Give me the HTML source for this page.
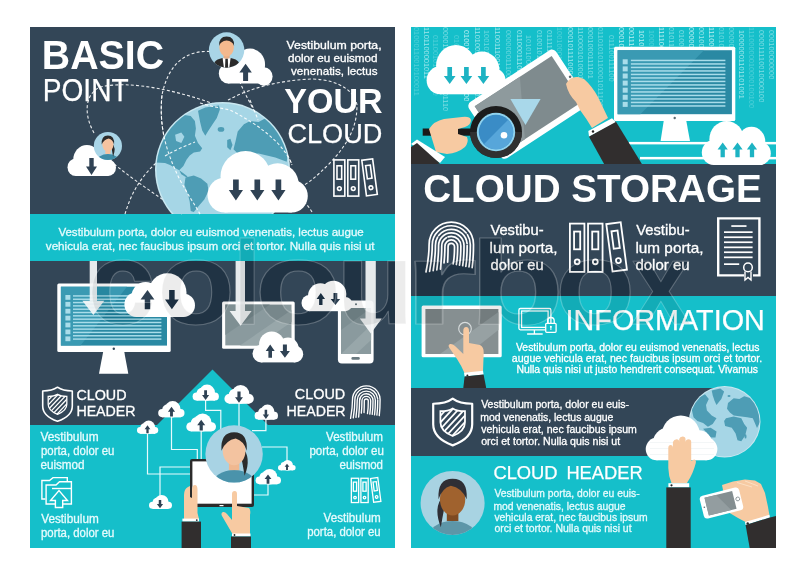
<!DOCTYPE html>
<html><head><meta charset="utf-8">
<style>
html,body{margin:0;padding:0;background:#fff;width:800px;height:575px;overflow:hidden}
svg{display:block}
text{font-family:"Liberation Sans",sans-serif}
</style></head><body>
<svg width="800" height="575" viewBox="0 0 800 575">
<defs>
<symbol id="cloud" viewBox="0 0 100 60" preserveAspectRatio="none">
<circle cx="16" cy="45" r="15"/><circle cx="84" cy="44" r="16"/><circle cx="42" cy="30" r="27"/><circle cx="70" cy="34" r="19"/><rect x="16" y="30" width="68" height="30"/>
</symbol>
<symbol id="au" viewBox="0 0 10 14" preserveAspectRatio="none"><path d="M5 0L10 6.5H7V14H3V6.5H0Z"/></symbol>
<symbol id="ad" viewBox="0 0 10 14" preserveAspectRatio="none"><path d="M5 14L10 7.5H7V0H3V7.5H0Z"/></symbol>
</defs>
<rect x="30" y="27" width="365" height="521" fill="#334657"/>
<rect x="30" y="214" width="365" height="47" fill="#15BFCA"/>
<path d="M30 425H157L212.5 369.5L268 425H395V548H30Z" fill="#15BFCA"/>
<rect x="411" y="27" width="365" height="137" fill="#15BFCA"/>
<rect x="411" y="164" width="365" height="132" fill="#334657"/>
<rect x="411" y="296" width="365" height="252" fill="#15BFCA"/>
<rect x="411" y="388" width="310" height="68" fill="#334657"/>
<g fill="none" stroke="#fff" stroke-width="1.1" stroke-dasharray="3 2.2" opacity="0.9"><path d="M94 133C84 115 84 95 100 87C130 80 180 90 230 110C260 125 285 145 292 165"/><path d="M210 51.5C185 50 168 65 162 95C159 125 165 150 180 180C188 195 195 205 200 214"/><path d="M114 164C135 181 155 194 172 206L182 214"/><path d="M125 214C132 190 145 170 165 156C175 150 185 146 195 142"/><path d="M239.5 81C245 95 252 105 258 120"/><path d="M228 100C250 88 280 80 313 79C340 80 355 92 357 105C357 125 350 142 329 164C318 175 312 180 303 186"/><path d="M300 198C306 203 310 208 313 214"/></g>
<clipPath id="gclip"><rect x="30" y="27" width="365" height="187"/></clipPath>
<g clip-path="url(#gclip)"><circle cx="222.5" cy="169.5" r="67.5" fill="#C9E8F1"/><circle cx="222.5" cy="169.5" r="66" fill="#A6D6E6"/><clipPath id="g1c"><circle cx="222.5" cy="169.5" r="66"/></clipPath><g fill="#4E9DB5" clip-path="url(#g1c)"><path d="M198 110.7L205.3 107.5L218.9 105.4L219.9 109.6L216.8 118L212.6 124.2L208.5 130.5L205.3 135.7L202.2 130.5L200.1 122.1Z"/><path d="M150 125L160 122L170.9 118L181.3 114.5L190.7 115.9L194.9 121.1L195.9 128.4L194.9 135.7L198 143L202.2 148.2L200.1 151.4L193.8 152.4L189.7 155.5L186.5 159.7L183.4 166L179.2 170.2L175.1 168.1L170 165L165 163L150 162Z"/><path d="M179.2 170.2L183.4 173.3L187.6 176.4L186.5 177.5L181.3 174.3Z"/><path d="M185.5 177.5L193.8 175.4L201.1 178.5L207.4 183.7L208.5 191L204.3 199.4L199.1 205.6L193.8 211.9L190.7 210.9L189.7 201.5L187.6 193.1L184.4 184.8Z"/><ellipse cx="221" cy="129.4" rx="3.3" ry="2.3"/><path d="M227.2 139.9L230.4 138.8L232.5 145.1L230.4 150.3L227.2 147.2Z"/><path d="M237.7 131.5L243.9 124.2L250.2 121.1L258.6 122.1L265.9 118L275.3 120.1L283.6 126.3L287.8 136.8L288.8 149.3L286.7 161.8L275.3 157.6L266.9 155.5L258.6 153.5L250.2 153.5L243.9 155.5L237.7 153.5L233.5 149.3L235.6 140.9Z"/></g><g fill="#A6D6E6"><path d="M175.1 134.7L181.3 132.6L184.4 136.8L181.3 143L176.1 140.9Z"/></g></g>
<g fill="none" stroke="#fff" stroke-width="1.1" stroke-dasharray="3 2.2" opacity="0.9"><path d="M162 95C159 125 165 150 180 180C188 195 195 205 200 214"/><path d="M200 103C210 106 220 108 230 110C260 125 285 145 292 165"/><path d="M165 156C175 150 185 146 195 142"/><path d="M250 100C253 108 256 114 258 120"/></g>
<g fill="#fff" ><ellipse cx="224.55" cy="195.07" rx="17.05" ry="17.42"/><ellipse cx="245.61" cy="176.62" rx="25.08" ry="25.62"/><ellipse cx="277.71" cy="184.82" rx="21.06" ry="21.52"/><ellipse cx="291.75" cy="196.10" rx="16.05" ry="16.40"/><rect x="224.55" y="181.75" width="67.20" height="30.75"/></g>
<path d="M235.9 200.4L243.0 189.95H238.74V179.5H233.06V189.95H228.8Z" fill="#2F4254"/>
<path d="M257.3 200.4L264.40000000000003 189.95H260.14V179.5H254.46V189.95H250.20000000000002Z" fill="#2F4254"/>
<path d="M278.4 200.4L285.5 189.95H281.23999999999995V179.5H275.56V189.95H271.29999999999995Z" fill="#2F4254"/>
<g fill="#fff" ><ellipse cx="227.95" cy="73.61" rx="9.15" ry="9.89"/><ellipse cx="234.94" cy="67.21" rx="10.76" ry="11.63"/><ellipse cx="250.00" cy="64.89" rx="15.06" ry="16.29"/><ellipse cx="263.99" cy="76.52" rx="8.61" ry="9.31"/><rect x="227.95" y="66.05" width="36.05" height="17.45"/></g>
<path d="M245.6 63.8L251.85 72.4H248.1V81H243.1V72.4H239.35Z" fill="#2F4254"/>
<clipPath id="mc226"><circle cx="226.6" cy="50" r="17.7"/></clipPath><circle cx="226.6" cy="50" r="17.7" fill="#A9D5E7"/><g clip-path="url(#mc226)"><path d="M213.6 69.0L214.6 62.0Q216.6 59.0 222.6 58.0H230.6Q236.6 59.0 238.6 62.0L239.6 69.0Z" fill="#2B2B2B"/><path d="M222.6 58.0H230.6L229.1 69.0H224.1Z" fill="#fff"/><path d="M225.4 58.5H227.79999999999998L228.2 69.0H225.0Z" fill="#2B2B2B"/><rect x="223.6" y="52.0" width="6.0" height="6.5" fill="#E9AE86"/><ellipse cx="226.6" cy="47.0" rx="7.3" ry="9.5" fill="#F4B98E"/><path d="M219.1 46.0Q218.6 36.5 226.6 36.5Q234.6 36.5 234.1 46.0Q232.6 41.0 226.6 40.5Q220.6 41.0 219.1 46.0Z" fill="#2B2B2B"/></g>
<g fill="#fff" ><ellipse cx="75.75" cy="167.22" rx="8.24" ry="8.78"/><ellipse cx="86.90" cy="159.47" rx="13.58" ry="14.47"/><ellipse cx="101.45" cy="162.05" rx="10.19" ry="10.85"/><ellipse cx="108.24" cy="167.73" rx="7.76" ry="8.27"/><rect x="75.75" y="160.50" width="32.49" height="15.50"/></g>
<path d="M91.5 175L97.0 166.5H93.7V158H89.3V166.5H86.0Z" fill="#2F4254"/>
<clipPath id="w1"><circle cx="107.9" cy="146" r="14.1"/></clipPath><circle cx="107.9" cy="146" r="14.1" fill="#A9D5E7"/><g clip-path="url(#w1)"><ellipse cx="107.9" cy="161.9322033898305" rx="11.152542372881356" ry="7.966101694915254" fill="#3D8DA8"/><rect x="105.35084745762713" y="148.38983050847457" width="5.098305084745763" height="5.576271186440678" fill="#F5C3A0"/><g transform="translate(107.9 0) scale(1 1) translate(-107.9 0)"><path d="M111.88305084745764 142.8135593220339Q116.66271186440679 147.59322033898306 113.07796610169493 156.75423728813558Q112.2813559322034 151.5762711864407 111.08644067796611 146Z" fill="#2B2B2B"/><ellipse cx="107.9" cy="144.40677966101694" rx="5.576271186440678" ry="7.169491525423728" fill="#F5C3A0"/><path d="M101.6864406779661 144.40677966101694Q101.12881355932204 135.4050847457627 107.9 135.4050847457627Q114.67118644067797 135.4050847457627 114.11355932203391 144.40677966101694Q112.67966101694915 139.6271186440678 108.69661016949154 138.4322033898305Q103.91694915254237 139.22881355932202 101.6864406779661 144.40677966101694Z" fill="#2B2B2B"/></g></g>
<g fill="none" stroke="#fff" stroke-width="1.6"><rect x="333.90" y="159.90" width="10.91" height="36.20"/><rect x="336.98" y="165.79" width="4.70" height="13.38"/><circle cx="339.36" cy="188.58" r="1.88"/><rect x="347.81" y="159.90" width="10.91" height="36.20"/><rect x="350.88" y="165.79" width="4.70" height="13.38"/><circle cx="353.26" cy="188.58" r="1.88"/><g transform="rotate(-7.5 360.91 159.59)"><rect x="361.71" y="160.39" width="10.91" height="35.82"/><rect x="364.79" y="166.22" width="4.70" height="13.25"/><circle cx="367.17" cy="188.78" r="1.88"/></g></g>
<rect x="57.3" y="283.4" width="113.4" height="68.5" rx="1.5" fill="#fff"/>
<rect x="60.9" y="286.7" width="106.1" height="58.9" fill="#2A89A3"/>
<path d="M60.9 286.7H127L80.5 345.6H60.9Z" fill="#3A9AB3"/>
<rect x="65.4" y="295.0" width="5" height="4.8" fill="#A9DDEA"/>
<rect x="65.4" y="301.9" width="5" height="4.8" fill="#A9DDEA"/>
<rect x="65.4" y="308.8" width="5" height="4.8" fill="#A9DDEA"/>
<rect x="65.4" y="315.7" width="5" height="4.8" fill="#A9DDEA"/>
<rect x="65.4" y="322.6" width="5" height="4.8" fill="#A9DDEA"/>
<rect x="65.4" y="329.5" width="5" height="4.8" fill="#A9DDEA"/>
<rect x="65.4" y="336.4" width="5" height="4.8" fill="#A9DDEA"/>
<rect x="73" y="295.20" width="88.4" height="1.45" fill="#A9DDEA"/>
<rect x="73" y="298.52" width="88.4" height="1.45" fill="#A9DDEA"/>
<rect x="73" y="301.84" width="88.4" height="1.45" fill="#A9DDEA"/>
<rect x="73" y="305.16" width="88.4" height="1.45" fill="#A9DDEA"/>
<rect x="73" y="308.48" width="88.4" height="1.45" fill="#A9DDEA"/>
<rect x="73" y="311.80" width="88.4" height="1.45" fill="#A9DDEA"/>
<rect x="73" y="315.12" width="88.4" height="1.45" fill="#A9DDEA"/>
<rect x="73" y="318.44" width="88.4" height="1.45" fill="#A9DDEA"/>
<rect x="73" y="321.76" width="88.4" height="1.45" fill="#A9DDEA"/>
<rect x="73" y="325.08" width="88.4" height="1.45" fill="#A9DDEA"/>
<rect x="73" y="328.40" width="88.4" height="1.45" fill="#A9DDEA"/>
<rect x="73" y="331.72" width="88.4" height="1.45" fill="#A9DDEA"/>
<rect x="73" y="335.04" width="88.4" height="1.45" fill="#A9DDEA"/>
<rect x="73" y="338.36" width="88.4" height="1.45" fill="#A9DDEA"/>
<circle cx="113.8" cy="348.8" r="1.2" fill="#334657"/>
<path d="M103.2 351.5H124.2L128.3 373.8H99Z" fill="#fff"/>
<rect x="222.1" y="301.4" width="72.6" height="47.3" rx="1.5" fill="#fff"/>
<rect x="225.3" y="304.6" width="66.2" height="40.8" fill="#8A9A9E"/>
<path d="M225.3 304.6H270L225.3 335Z" fill="#7E8F93"/>
<path d="M240 345.4L291.5 310V322L258 345.4Z" fill="#98A7AA"/>
<rect x="337.9" y="300.5" width="35.7" height="63" rx="4" fill="#fff"/>
<rect x="341" y="308" width="30.1" height="46" fill="#8A9A9E"/>
<path d="M341 308H371.1L341 330Z" fill="#7E8F93"/>
<path d="M341 354L371.1 325V340L356 354Z" fill="#98A7AA"/>
<circle cx="356" cy="304.3" r="1" fill="#6A7A80"/>
<rect x="351.4" y="357" width="8.4" height="2.7" rx="1.3" fill="#6A7A80"/>
<path d="M89.7 261H97V300.7H104.3L93.35 315L82.4 300.7H89.7Z" fill="#F4F6F7" opacity="0.93"/>
<path d="M235.6 261H245V311H251.6L240.6 325.8L229.6 311H235.6Z" fill="#F4F6F7" opacity="0.93"/>
<path d="M365.5 261H375.8V318.4H381.8L370.8 333.4L359.8 318.4H365.5Z" fill="#F4F6F7" opacity="0.93"/>
<g fill="#fff" ><ellipse cx="136.40" cy="304.62" rx="12.00" ry="12.38"/><ellipse cx="145.58" cy="296.61" rx="14.12" ry="14.57"/><ellipse cx="167.47" cy="292.97" rx="19.06" ry="19.66"/><ellipse cx="183.70" cy="305.35" rx="11.30" ry="11.65"/><rect x="136.40" y="295.15" width="47.30" height="21.85"/></g>
<path d="M147.5 290L154.4 299.6H150.26V309.2H144.74V299.6H140.6Z" fill="#2F4254"/>
<path d="M171.9 309.2L178.8 299.6H174.66V290H169.14000000000001V299.6H165.0Z" fill="#2F4254"/>
<g fill="#fff" ><ellipse cx="261.12" cy="353.62" rx="8.62" ry="8.78"/><ellipse cx="271.77" cy="344.32" rx="12.67" ry="12.92"/><ellipse cx="287.99" cy="348.45" rx="10.65" ry="10.85"/><ellipse cx="295.09" cy="354.13" rx="8.11" ry="8.27"/><rect x="261.12" y="346.90" width="33.97" height="15.50"/></g>
<path d="M270.2 344.5L274.7 351.1H272.0V357.7H268.4V351.1H265.7Z" fill="#2F4254"/>
<path d="M284.9 357.7L289.9 351.1H286.9V344.5H282.9V351.1H279.9Z" fill="#2F4254"/>
<g fill="#fff" ><ellipse cx="309.47" cy="303.09" rx="7.97" ry="8.11"/><ellipse cx="320.43" cy="296.00" rx="12.45" ry="12.67"/><ellipse cx="333.38" cy="293.97" rx="12.95" ry="13.17"/><ellipse cx="345.33" cy="304.11" rx="6.97" ry="7.09"/><rect x="309.47" y="296.00" width="35.86" height="15.20"/></g>
<path d="M320.8 293L325.05 298.95H322.5V304.9H319.1V298.95H316.55Z" fill="#2F4254"/>
<path d="M335.4 304.9L340.15 298.95H337.29999999999995V293H333.5V298.95H330.65Z" fill="#2F4254"/>
<path d="M57.5 387.2Q52.32 390.94 42.7 390.94V405.9Q42.7 416.09999999999997 57.5 421.2Q72.3 416.09999999999997 72.3 405.9V390.94Q62.68 390.94 57.5 387.2Z" fill="none" stroke="#fff" stroke-width="1.6" stroke-linejoin="round"/><clipPath id="sh1"><path d="M57.5 394.34Q54.2366 396.346 48.176 396.346V404.37Q48.176 410.7892 57.5 414.4Q66.824 410.7892 66.824 404.37V396.346Q60.7634 396.346 57.5 394.34Z"/></clipPath><path d="M57.5 394.34Q54.2366 396.346 48.176 396.346V404.37Q48.176 410.7892 57.5 414.4Q66.824 410.7892 66.824 404.37V396.346Q60.7634 396.346 57.5 394.34Z" fill="none" stroke="#fff" stroke-width="1.2800000000000002"/><g clip-path="url(#sh1)" stroke="#fff" stroke-width="1.2800000000000002"><line x1="29.9364" y1="419.4" x2="58.584399999999995" y2="389.34"/><line x1="34.3496" y1="419.4" x2="62.9976" y2="389.34"/><line x1="38.7628" y1="419.4" x2="67.4108" y2="389.34"/><line x1="43.176" y1="419.4" x2="71.824" y2="389.34"/><line x1="47.589200000000005" y1="419.4" x2="76.2372" y2="389.34"/><line x1="52.0024" y1="419.4" x2="80.6504" y2="389.34"/><line x1="56.415600000000005" y1="419.4" x2="85.0636" y2="389.34"/></g>
<g fill="none" stroke="#fff" stroke-width="1.35" stroke-linecap="round"><path d="M364.02 412.65Q364.30 406.25 364.30 401.02A2.00 2.00 0 0 1 368.30 401.02Q368.30 408.60 367.47 413.66"/><path d="M361.33 413.09Q361.94 406.30 361.94 400.73A4.36 4.36 0 0 1 370.66 400.73Q370.66 408.71 369.83 414.03"/><path stroke-dasharray="23.3 1.2 999" d="M358.64 416.98Q359.58 407.89 359.58 400.45A6.72 6.72 0 0 1 373.02 400.45Q373.02 408.83 372.19 414.41"/><path d="M355.95 417.42Q357.22 407.93 357.22 400.17A9.08 9.08 0 0 1 375.38 400.17Q375.38 408.94 374.55 414.79"/><path stroke-dasharray="24.3 1.2 27.0 1.2 999" d="M353.26 417.86Q354.86 407.97 354.86 399.88A11.44 11.44 0 0 1 377.74 399.88Q377.74 409.05 376.91 415.16"/><path stroke-dasharray="52.7 1.2 999" d="M350.57 418.30Q352.50 408.02 352.50 399.60A13.80 13.80 0 0 1 380.10 399.60Q380.10 409.16 379.27 415.54"/></g>
<g fill="none" stroke="#fff" stroke-width="1.4" stroke-linejoin="miter"><path d="M45.4 499H41.9V480.5H49.5L53 477.6H67.3V481.5"/><path d="M55.4 504H46.1V485H56L59.5 481.7H71.4V504H62.7"/><path d="M52 488.5H71.4"/><path d="M55.4 507.5V500.5H50.5L59 490.5L67.5 500.5H62.7V507.5Z"/></g>
<g fill="none" stroke="#fff" stroke-width="1.3"><rect x="351.35" y="478.25" width="7.29" height="24.30"/><rect x="353.36" y="482.13" width="3.23" height="9.06"/><circle cx="355.00" cy="497.57" r="1.29"/><rect x="360.90" y="478.25" width="7.29" height="24.30"/><rect x="362.91" y="482.13" width="3.23" height="9.06"/><circle cx="364.54" cy="497.57" r="1.29"/><g transform="rotate(-7.5 369.80 477.93)"><rect x="370.45" y="478.58" width="7.29" height="24.04"/><rect x="372.46" y="482.42" width="3.23" height="8.97"/><circle cx="374.09" cy="497.70" r="1.29"/></g></g>
<g fill="none" stroke="#E8FBFD" stroke-width="1.2"><path d="M147.5 430V474H190"/><path d="M171.5 414V449.5H197.3V459"/><path d="M201.2 428V459"/><path d="M205.6 398V410.4H220.8V432"/><path d="M239 400V427"/><path d="M265.9 417V430.7H252"/><path d="M160 497V467H190"/><path d="M262 447H287V462"/><path d="M268 482V495H254"/></g>
<g fill="#fff" ><ellipse cx="140.18" cy="430.35" rx="3.18" ry="3.32"/><ellipse cx="144.42" cy="427.69" rx="4.24" ry="4.43"/><ellipse cx="148.66" cy="427.25" rx="6.36" ry="6.65"/><ellipse cx="155.02" cy="430.35" rx="3.18" ry="3.32"/><rect x="140.18" y="427.25" width="14.84" height="6.65"/></g>
<path d="M147.5 425.255L150.362 429.245H148.6448V433.23499999999996H146.3552V429.245H144.638Z" fill="#2F4254"/>
<g fill="#fff" ><ellipse cx="162.14" cy="413.03" rx="3.95" ry="4.10"/><ellipse cx="167.41" cy="409.75" rx="5.26" ry="5.47"/><ellipse cx="172.66" cy="409.20" rx="7.89" ry="8.20"/><ellipse cx="180.56" cy="413.03" rx="3.95" ry="4.10"/><rect x="162.14" y="409.20" width="18.41" height="8.20"/></g>
<path d="M171.5 406.74L175.0505 411.65999999999997H172.9202V416.58H170.0798V411.65999999999997H167.9495Z" fill="#2F4254"/>
<g fill="#fff" ><ellipse cx="190.75" cy="426.70" rx="4.45" ry="4.50"/><ellipse cx="196.69" cy="423.10" rx="5.94" ry="6.00"/><ellipse cx="202.63" cy="422.50" rx="8.91" ry="9.00"/><ellipse cx="211.55" cy="426.70" rx="4.45" ry="4.50"/><rect x="190.75" y="422.50" width="20.79" height="9.00"/></g>
<path d="M201.2 419.8L205.2095 425.20000000000005H202.8038V430.6H199.59619999999998V425.20000000000005H197.1905Z" fill="#2F4254"/>
<g fill="#fff" ><ellipse cx="196.54" cy="396.41" rx="3.95" ry="4.02"/><ellipse cx="201.81" cy="393.19" rx="5.26" ry="5.37"/><ellipse cx="207.06" cy="392.65" rx="7.89" ry="8.05"/><ellipse cx="214.96" cy="396.41" rx="3.95" ry="4.02"/><rect x="196.54" y="392.65" width="18.41" height="8.05"/></g>
<path d="M205.6 399.895L209.1505 395.065H207.0202V390.235H204.1798V395.065H202.0495Z" fill="#2F4254"/>
<g fill="#fff" ><ellipse cx="228.81" cy="398.79" rx="4.41" ry="4.70"/><ellipse cx="234.69" cy="395.03" rx="5.88" ry="6.27"/><ellipse cx="240.57" cy="394.40" rx="8.82" ry="9.40"/><ellipse cx="249.39" cy="398.79" rx="4.41" ry="4.70"/><rect x="228.81" y="394.40" width="20.58" height="9.40"/></g>
<path d="M239 402.86L242.969 397.22H240.5876V391.58H237.4124V397.22H235.031Z" fill="#2F4254"/>
<g fill="#fff" ><ellipse cx="258.11" cy="415.69" rx="3.51" ry="3.85"/><ellipse cx="262.79" cy="412.61" rx="4.68" ry="5.13"/><ellipse cx="267.47" cy="412.10" rx="7.02" ry="7.70"/><ellipse cx="274.49" cy="415.69" rx="3.51" ry="3.85"/><rect x="258.11" y="412.10" width="16.38" height="7.70"/></g>
<path d="M265.9 419.03000000000003L269.05899999999997 414.40999999999997H267.1636V409.78999999999996H264.6364V414.40999999999997H262.741Z" fill="#2F4254"/>
<g fill="#fff" ><ellipse cx="152.45" cy="505.27" rx="3.45" ry="3.50"/><ellipse cx="157.05" cy="502.47" rx="4.60" ry="4.67"/><ellipse cx="161.65" cy="502.00" rx="6.90" ry="7.00"/><ellipse cx="168.55" cy="505.27" rx="3.45" ry="3.50"/><rect x="152.45" y="502.00" width="16.10" height="7.00"/></g>
<path d="M160 508.3L163.105 504.1H161.242V499.9H158.758V504.1H156.895Z" fill="#2F4254"/>
<g fill="#fff" ><ellipse cx="280.64" cy="467.63" rx="2.64" ry="2.60"/><ellipse cx="284.16" cy="465.55" rx="3.52" ry="3.47"/><ellipse cx="287.68" cy="465.20" rx="5.28" ry="5.20"/><ellipse cx="292.96" cy="467.63" rx="2.64" ry="2.60"/><rect x="280.64" y="465.20" width="12.32" height="5.20"/></g>
<path d="M287 463.64L289.376 466.76H287.9504V469.88H286.0496V466.76H284.624Z" fill="#2F4254"/>
<g fill="#fff" ><ellipse cx="259.41" cy="480.29" rx="3.81" ry="3.85"/><ellipse cx="264.49" cy="477.21" rx="5.08" ry="5.13"/><ellipse cx="269.57" cy="476.70" rx="7.62" ry="7.70"/><ellipse cx="277.19" cy="480.29" rx="3.81" ry="3.85"/><rect x="259.41" y="476.70" width="17.78" height="7.70"/></g>
<path d="M268 474.39L271.429 479.01H269.3716V483.63H266.6284V479.01H264.571Z" fill="#2F4254"/>
<rect x="190" y="459" width="64" height="48" rx="2" fill="#2B2B2B"/>
<rect x="192.4" y="461.4" width="59.2" height="42.3" fill="#fff"/>
<rect x="219.5" y="505" width="4" height="1.2" fill="#fff"/>
<clipPath id="w2"><circle cx="234.1" cy="453.9" r="28.7"/></clipPath><circle cx="234.1" cy="453.9" r="28.7" fill="#A8D3E4"/><g clip-path="url(#w2)"><ellipse cx="234.1" cy="486.3293785310734" rx="22.70056497175141" ry="16.214689265536723" fill="#4A93AB"/><rect x="228.91129943502824" y="458.764406779661" width="10.377401129943504" height="11.350282485875706" fill="#F0B890"/><g transform="translate(234.1 0) scale(1 1) translate(-234.1 0)"><path d="M242.20734463276835 447.4141242937853Q251.93615819209037 457.1429378531073 244.63954802259886 475.78983050847455Q243.0180790960452 465.2502824858757 240.5858757062147 453.9Z" fill="#2B2B2B"/><ellipse cx="234.1" cy="450.65706214689266" rx="11.350282485875706" ry="14.593220338983052" fill="#F3C3A0"/><path d="M221.45254237288134 450.65706214689266Q220.31751412429378 432.3344632768361 234.1 432.3344632768361Q247.8824858757062 432.3344632768361 246.74745762711865 450.65706214689266Q243.82881355932204 440.9282485875706 235.72146892655365 438.4960451977401Q225.99265536723163 440.11751412429373 221.45254237288134 450.65706214689266Z" fill="#2B2B2B"/></g></g>
<path d="M184 519V495Q184 489 188 487L190 486V497L192 498V490Q192 485 195 485Q197.5 485 197.5 490V513L199 519Z" fill="#F7CAA2"/>
<rect x="182.4" y="518.6" width="16.6" height="3" fill="#fff"/><rect x="181.6" y="521.6" width="19.4" height="26.4" fill="#312E2E"/><circle cx="196.8" cy="520.1" r="0.9" fill="#222"/>
<path d="M232.5 534L222 516Q220.5 513 223 512Q225 511.5 227 514L232 520V494Q232 491 234.7 491Q237 491 237 494V506L249 508Q251 510 250 515L250 534Z" fill="#F7CAA2"/>
<rect x="232" y="533.5" width="18.5" height="3" fill="#fff"/><rect x="231" y="536.5" width="20" height="11.5" fill="#312E2E"/><circle cx="234.5" cy="535" r="0.9" fill="#222"/>
<clipPath id="rtop"><rect x="411" y="27" width="365" height="137"/></clipPath>
<g clip-path="url(#rtop)" font-family="Liberation Sans" font-size="7.4" fill="#D5F6F9"><text transform="translate(414.3 27) rotate(90)" opacity="0.3">01000110010100011</text><text transform="translate(423.7 27) rotate(90)" opacity="0.7">1101100001011</text><text transform="translate(433.1 35) rotate(90)" opacity="0.3">011001010101100</text><text transform="translate(443.2 27) rotate(90)" opacity="0.55">000010010101011101110</text><text transform="translate(454.2 35) rotate(90)" opacity="0.3">01001011001010</text><text transform="translate(463.6 30) rotate(90)" opacity="0.85">010011000111110000</text><text transform="translate(474.5 27) rotate(90)" opacity="0.7">110100100000000101100</text><text transform="translate(483.8 30) rotate(90)" opacity="0.45">100101001000</text><text transform="translate(494.8 27) rotate(90)" opacity="0.7">110011100111100100</text><text transform="translate(505.8 30) rotate(90)" opacity="0.45">00000001110000</text><text transform="translate(516.8 30) rotate(90)" opacity="0.7">01100011100001111011</text><text transform="translate(525.8 35) rotate(90)" opacity="0.45">101010000100010001</text><text transform="translate(536.8 30) rotate(90)" opacity="0.55">0100101100001</text><text transform="translate(546.8 30) rotate(90)" opacity="0.55">0111110000000</text><text transform="translate(556.8 27) rotate(90)" opacity="0.3">10010001011001</text><text transform="translate(567.8 27) rotate(90)" opacity="0.7">00010111100011111010</text><text transform="translate(577.8 27) rotate(90)" opacity="0.55">110000101000101</text><text transform="translate(587.8 27) rotate(90)" opacity="0.55">0001000111101</text><text transform="translate(597.8 27) rotate(90)" opacity="0.45">0110101011000101110000</text><text transform="translate(608.8 35) rotate(90)" opacity="0.45">011100111100</text><text transform="translate(618.8 27) rotate(90)" opacity="0.85">00010001001101100000</text><text transform="translate(628.8 27) rotate(90)" opacity="0.85">001110000101111110101</text><text transform="translate(638.8 30) rotate(90)" opacity="0.85">1010110001100100011</text><text transform="translate(648.8 30) rotate(90)" opacity="0.3">1000001011101</text><text transform="translate(658.8 27) rotate(90)" opacity="0.85">11110001111110010</text><text transform="translate(668.8 27) rotate(90)" opacity="0.55">0101100001000010100</text><text transform="translate(678.8 30) rotate(90)" opacity="0.55">0100011001000111</text><text transform="translate(688.8 27) rotate(90)" opacity="0.85">000000011100101</text><text transform="translate(698.8 27) rotate(90)" opacity="0.7">00100000010010111010</text><text transform="translate(708.8 27) rotate(90)" opacity="0.85">11100000100100000100</text><text transform="translate(718.8 27) rotate(90)" opacity="0.45">0101001101001</text><text transform="translate(728.8 27) rotate(90)" opacity="0.45">00000001100110</text><text transform="translate(738.8 30) rotate(90)" opacity="0.7">10000001101101001</text><text transform="translate(748.8 27) rotate(90)" opacity="0.3">11100000010000100100</text><text transform="translate(758.8 30) rotate(90)" opacity="0.55">000011110010000100</text><text transform="translate(768.8 30) rotate(90)" opacity="0.55">000100000000</text></g>
<rect x="628.7" y="141.9" width="148" height="2.5" fill="#fff"/>
<rect x="640" y="156.9" width="136" height="2.5" fill="#fff"/>
<g fill="#fff" ><ellipse cx="440.05" cy="80.33" rx="13.45" ry="13.97"/><ellipse cx="455.87" cy="65.54" rx="19.77" ry="20.54"/><ellipse cx="481.97" cy="69.65" rx="17.40" ry="18.08"/><ellipse cx="493.04" cy="81.15" rx="12.66" ry="13.15"/><rect x="440.05" y="69.65" width="53.00" height="24.65"/></g>
<path d="M449.7 84.1L455.55 75.892H452.03999999999996V67H447.36V75.892H443.84999999999997Z" fill="#1DB3C3"/>
<path d="M466.4 84.1L472.25 75.892H468.73999999999995V67H464.06V75.892H460.54999999999995Z" fill="#1DB3C3"/>
<path d="M483.4 84.1L489.25 75.892H485.73999999999995V67H481.06V75.892H477.54999999999995Z" fill="#1DB3C3"/>
<rect x="614" y="46.8" width="121.3" height="74.2" rx="1.5" fill="#fff"/>
<rect x="617.6" y="50.2" width="114.3" height="64" fill="#2A89A3"/>
<path d="M617.6 50.2H704L640.3 114.2H617.6Z" fill="#3A9AB3"/>
<rect x="622.7" y="59.3" width="5" height="5" fill="#A9DDEA"/>
<rect x="622.7" y="66.4" width="5" height="5" fill="#A9DDEA"/>
<rect x="622.7" y="73.5" width="5" height="5" fill="#A9DDEA"/>
<rect x="622.7" y="80.6" width="5" height="5" fill="#A9DDEA"/>
<rect x="622.7" y="87.7" width="5" height="5" fill="#A9DDEA"/>
<rect x="622.7" y="94.8" width="5" height="5" fill="#A9DDEA"/>
<rect x="622.7" y="101.9" width="5" height="5" fill="#A9DDEA"/>
<rect x="630.9" y="59.70" width="94.5" height="1.5" fill="#A9DDEA"/>
<rect x="630.9" y="63.20" width="94.5" height="1.5" fill="#A9DDEA"/>
<rect x="630.9" y="66.70" width="94.5" height="1.5" fill="#A9DDEA"/>
<rect x="630.9" y="70.20" width="94.5" height="1.5" fill="#A9DDEA"/>
<rect x="630.9" y="73.70" width="94.5" height="1.5" fill="#A9DDEA"/>
<rect x="630.9" y="77.20" width="94.5" height="1.5" fill="#A9DDEA"/>
<rect x="630.9" y="80.70" width="94.5" height="1.5" fill="#A9DDEA"/>
<rect x="630.9" y="84.20" width="94.5" height="1.5" fill="#A9DDEA"/>
<rect x="630.9" y="87.70" width="94.5" height="1.5" fill="#A9DDEA"/>
<rect x="630.9" y="91.20" width="94.5" height="1.5" fill="#A9DDEA"/>
<rect x="630.9" y="94.70" width="94.5" height="1.5" fill="#A9DDEA"/>
<rect x="630.9" y="98.20" width="94.5" height="1.5" fill="#A9DDEA"/>
<rect x="630.9" y="101.70" width="94.5" height="1.5" fill="#A9DDEA"/>
<rect x="630.9" y="105.20" width="94.5" height="1.5" fill="#A9DDEA"/>
<circle cx="674.7" cy="118" r="1.2" fill="#5B6B72"/>
<path d="M663.7 121H686.3L690 140.9H660.6Z" fill="#fff"/>
<g fill="#fff" ><ellipse cx="713.53" cy="152.53" rx="11.73" ry="12.47"/><ellipse cx="726.64" cy="139.33" rx="17.25" ry="18.33"/><ellipse cx="751.48" cy="141.53" rx="13.80" ry="14.67"/><ellipse cx="759.76" cy="153.27" rx="11.04" ry="11.73"/><rect x="713.53" y="143.00" width="46.23" height="22.00"/></g>
<path d="M722.7 142.5L727.8000000000001 149.55599999999998H724.8420000000001V157.2H720.558V149.55599999999998H717.6Z" fill="#1DB3C3"/>
<path d="M737.5 142.5L742.6 149.55599999999998H739.642V157.2H735.358V149.55599999999998H732.4Z" fill="#1DB3C3"/>
<path d="M752 142.5L757.1 149.55599999999998H754.142V157.2H749.858V149.55599999999998H746.9Z" fill="#1DB3C3"/>
<g transform="translate(466.4 104.6) rotate(-33.2)"><rect x="0" y="0" width="104" height="67" rx="5" fill="#fff"/><rect x="6" y="6" width="92" height="55" fill="#7F8B8E"/><path d="M6 6H60L30 61H6Z" fill="#8E9A9D"/><circle cx="102" cy="33.5" r="1.3" fill="#5C6A70"/></g>
<path d="M510.4 99H540.6L525.5 125Z" fill="#A9D8EA"/>
<path d="M566 84Q570 76 578 77L584 79Q592 86 598 97L608 118L592 128Q586 118 580 110L576 102Q568 94 566 84Z" fill="#F7CAA2"/>
<path d="M588.9 136.5L615.7 121.3L641.9 164H604.1Z" fill="#312E2E"/>
<path d="M588.3 131L612 118.3L615.7 122L589 136.5Z" fill="#fff"/>
<circle cx="593" cy="131.5" r="1.2" fill="#222"/>
<rect x="422.7" y="128.5" width="50" height="7.2" fill="#1A1A1A"/>
<circle cx="496" cy="132" r="26" fill="#1C1C1C"/>
<path d="M470 132A26 26 0 0 0 522 132Z" fill="#333" opacity="0.9"/>
<circle cx="496" cy="132" r="19.2" fill="#8FD2EE"/>
<circle cx="496" cy="132" r="17.2" fill="#3A8CC6"/>
<path d="M508.2 119.8A17.2 17.2 0 0 1 483.8 144.2Z" fill="#57A6DA"/>
<circle cx="504" cy="135.2" r="3.3" fill="#fff"/>
<path d="M429 129Q434 121 444 119L462 117Q470 116 471 120Q471 125 465 127L458 129V134L467 137Q469 142 465 147Q458 153 447 154L436 152Z" fill="#F7CAA2"/>
<path d="M411 144L417 139.5L445 157L440 163Z" fill="#fff"/>
<path d="M411 147L417 143L440 163.5L438 164H411Z" fill="#312E2E"/>
<g fill="none" stroke="#fff" stroke-width="1.7" stroke-linecap="round"><path d="M447.63 262.21Q448.08 253.67 448.08 246.68A3.22 3.22 0 0 1 454.52 246.68Q454.52 257.03 453.19 263.93"/><path d="M444.02 262.92Q444.92 253.78 444.92 246.30A6.38 6.38 0 0 1 457.68 246.30Q457.68 257.24 456.35 264.53"/><path stroke-dasharray="33.0 2.0 999" d="M440.42 269.17Q441.75 256.38 441.75 245.92A9.55 9.55 0 0 1 460.85 245.92Q460.85 257.45 459.51 265.14"/><path d="M436.81 269.88Q438.59 256.49 438.59 245.54A12.71 12.71 0 0 1 464.01 245.54Q464.01 257.66 462.68 265.74"/><path stroke-dasharray="33.9 2.0 37.6 2.0 999" d="M433.20 270.59Q435.43 256.60 435.43 245.16A15.87 15.87 0 0 1 467.17 245.16Q467.17 257.87 465.84 266.35"/><path stroke-dasharray="73.4 2.0 999" d="M429.60 271.29Q432.26 256.71 432.26 244.78A19.04 19.04 0 0 1 470.34 244.78Q470.34 258.08 469.00 266.95"/><path d="M425.99 272.00Q429.10 256.82 429.10 244.40A22.20 22.20 0 0 1 473.50 244.40Q473.50 258.30 472.17 267.56"/></g>
<g fill="none" stroke="#fff" stroke-width="1.8"><rect x="569.90" y="223.60" width="14.52" height="48.30"/><rect x="574.06" y="231.57" width="6.14" height="17.74"/><circle cx="577.16" cy="261.78" r="2.45"/><rect x="588.04" y="223.60" width="14.52" height="48.30"/><rect x="592.20" y="231.57" width="6.14" height="17.74"/><circle cx="595.30" cy="261.78" r="2.45"/><g transform="rotate(-7.5 605.28 223.35)"><rect x="606.18" y="224.25" width="14.52" height="47.80"/><rect x="610.34" y="232.13" width="6.14" height="17.56"/><circle cx="613.44" cy="262.04" r="2.45"/></g></g>
<g fill="none" stroke="#fff"><path d="M744 275.4H718.2V218.4H759.4V275.4H753" stroke-width="2.4"/></g>
<g fill="#fff"><rect x="731.3" y="225.2" width="15.2" height="1.7"/><rect x="724" y="231.3" width="28.6" height="1.7"/><rect x="724" y="236.4" width="28.6" height="1.7"/><rect x="724" y="241.4" width="28.6" height="1.7"/><rect x="724" y="246.5" width="28.6" height="1.7"/><rect x="724" y="251.4" width="28.6" height="1.7"/><rect x="724" y="256.5" width="28.6" height="1.7"/><rect x="724" y="263.3" width="15.2" height="1.7"/></g>
<circle cx="748" cy="267.4" r="4.3" fill="none" stroke="#fff" stroke-width="1.5"/>
<path d="M745 271.5V280L748 277.5L751 280V271.5" fill="none" stroke="#fff" stroke-width="1.4"/>
<rect x="421.6" y="305.5" width="80.1" height="51.8" rx="1.5" fill="#fff"/>
<rect x="425.4" y="309" width="73" height="45" fill="#868F91"/>
<path d="M440 354L498.4 312V330L468 354Z" fill="#97A1A3"/>
<circle cx="465" cy="328.7" r="6.3" fill="none" stroke="#D8DDDE" stroke-width="1.1"/>
<path d="M463.3 331Q463.3 327 466.2 327Q469 327 469 331V343L480 345Q484 347 483.7 353L483 371.5L464.5 373Q461 365 457 359L449.5 348Q447.5 345 450 344Q452.5 343.5 455 346L463.3 354Z" fill="#F7CAA2"/>
<path d="M464 372.8L483 370.8L483.6 374.6L464.6 376.6Z" fill="#fff"/><circle cx="467.4" cy="375.4" r="1" fill="#222"/>
<path d="M464.6 376.6L483.6 374.6L486.2 388H463.3Z" fill="#312E2E"/>
<g fill="none" stroke="#fff" stroke-width="1.3"><rect x="518.9" y="308.5" width="32" height="21.3" rx="1.5"/><rect x="521.6" y="311" width="26.5" height="16.4"/><path d="M534.4 330V333.5M527.1 334H542.7"/><rect x="545.7" y="323.3" width="10.4" height="9" rx="1" fill="#15BFCA"/><path d="M547.6 323.3V320.8A3.3 3.3 0 0 1 554.2 320.8V323.3"/></g>
<circle cx="550.9" cy="326.8" r="1" fill="#fff"/><rect x="550.4" y="327" width="1" height="3" fill="#fff"/>
<path d="M452.7 398.6Q445.875 403.748 433.2 403.748V424.34Q433.2 438.38 452.7 445.4Q472.2 438.38 472.2 424.34V403.748Q459.525 403.748 452.7 398.6Z" fill="none" stroke="#fff" stroke-width="2.2" stroke-linejoin="round"/><clipPath id="sh2"><path d="M452.7 408.428Q448.40024999999997 411.18919999999997 440.41499999999996 411.18919999999997V422.234Q440.41499999999996 431.06983999999994 452.7 436.03999999999996Q464.985 431.06983999999994 464.985 422.234V411.18919999999997Q456.99975 411.18919999999997 452.7 408.428Z"/></clipPath><path d="M452.7 408.428Q448.40024999999997 411.18919999999997 440.41499999999996 411.18919999999997V422.234Q440.41499999999996 431.06983999999994 452.7 436.03999999999996Q464.985 431.06983999999994 464.985 422.234V411.18919999999997Q456.99975 411.18919999999997 452.7 408.428Z" fill="none" stroke="#fff" stroke-width="1.7600000000000002"/><g clip-path="url(#sh2)" stroke="#fff" stroke-width="1.7600000000000002"><line x1="417.19108" y1="441.03999999999996" x2="451.76108000000005" y2="403.428"/><line x1="423.26572" y1="441.03999999999996" x2="457.83572000000004" y2="403.428"/><line x1="429.34036" y1="441.03999999999996" x2="463.91036" y2="403.428"/><line x1="435.41499999999996" y1="441.03999999999996" x2="469.985" y2="403.428"/><line x1="441.48963999999995" y1="441.03999999999996" x2="476.05964" y2="403.428"/><line x1="447.56427999999994" y1="441.03999999999996" x2="482.13428" y2="403.428"/><line x1="453.6389199999999" y1="441.03999999999996" x2="488.20892" y2="403.428"/></g>
<circle cx="724.7" cy="421.8" r="35.8" fill="#C9E8F1"/>
<circle cx="724.7" cy="421.8" r="34.8" fill="#A6D6E6"/>
<clipPath id="g2"><circle cx="724.7" cy="421.8" r="34.8"/></clipPath>
<g clip-path="url(#g2)" fill="#4E9DB5"><path d="M711.7 390.5L720.3 388.6L724.1 391.5L721.3 399.1L716.5 404.9L714.6 401L712.7 395.3Z"/><path d="M691.6 408.7L697.4 398.2L705 394.3L708.8 399.1L706 404.9L706.9 410.6L711.7 415.4L716.5 418.2L712.7 424L707.9 426.8L703.1 423L697.4 421.1L693.5 417.3Z"/><path d="M703.1 428.8L710.7 427.8L716.5 431.6L715.5 437.4L710.7 437.4Z"/><path d="M728 403L733.7 398.2L739.4 399.1L744.2 396.3L750.9 398.2L756 401L760 410L761 420L757 428L752.8 418.2L747.1 417.3L739.4 416.3L733.7 415.4L729.9 412.5L727 408.7Z"/><path d="M726 418.2L733.7 416.6L741.3 418.2L744.2 424L747.1 427.8L745.2 435.4L741.3 441.2L737.5 440.2L735.6 433.5L731.8 427.8L725.1 425.9L724.1 421.1Z"/><ellipse cx="745.5" cy="436.4" rx="1" ry="2.2"/><ellipse cx="729" cy="396" rx="1.5" ry="1"/></g>
<g fill="#fff" ><ellipse cx="656.46" cy="449.07" rx="10.75" ry="11.23"/><ellipse cx="667.21" cy="443.09" rx="14.34" ry="14.97"/><ellipse cx="680.83" cy="435.61" rx="19.36" ry="20.21"/><ellipse cx="698.76" cy="444.58" rx="13.62" ry="14.22"/><ellipse cx="706.64" cy="449.07" rx="10.75" ry="11.23"/><rect x="656.46" y="437.85" width="50.19" height="22.45"/></g>
<g fill="#EEF2F4"><rect x="650" y="442" width="64" height="0.7"/><rect x="650" y="448" width="64" height="0.7"/><rect x="650" y="454" width="64" height="0.7"/></g>
<path d="M668.3 448Q668.3 445 670.6 445Q672.9 445 672.9 448V442Q674 439.3 676.6 439.3Q679.2 439.3 679.2 442V439Q679.8 436.4 682.6 436.4Q685.5 436.4 685.5 439V442Q685.9 439.3 688.5 439.3Q691.2 439.3 691.2 442V461L694 459.5Q696.5 459.5 695.8 463Q693 474 687.5 482L687 483.2H671.5Q668.5 476 668.3 468Z" fill="#F7CAA2"/>
<rect x="668.4" y="483.2" width="20.8" height="4.2" fill="#fff"/><circle cx="671.5" cy="485.3" r="1.1" fill="#222"/>
<rect x="666.3" y="487.4" width="24.4" height="60.6" fill="#312E2E"/>
<path d="M722 485L733 481.5L745 479.5L755 480.5L761 484L765 493L768 507L769.5 515.5L746.5 522.5L738 518L728 512L725 500Z" fill="#F7CAA2"/>
<path d="M737 482.5L752 487M745 481L758 486" stroke="#FBE0C4" stroke-width="1"/>
<g transform="translate(699 496.5) rotate(-14)"><rect x="0" y="0" width="40.5" height="23.5" rx="3.5" fill="#fff"/><rect x="5" y="2.6" width="28.5" height="18.3" fill="#848E91"/><path d="M5 2.6H17L28 20.9H5Z" fill="#939DA0"/><circle cx="37" cy="11.75" r="1.9" fill="none" stroke="#8A9498" stroke-width="0.9"/><circle cx="2.6" cy="11.75" r="0.8" fill="#6A7A80"/></g>
<path d="M745 522L769.4 514.8L770 517.5L745.6 525Z" fill="#fff"/><circle cx="747.7" cy="523.4" r="1.2" fill="#222"/>
<path d="M745.6 525L770 517.5L776 516V548H749.7Z" fill="#312E2E"/>
<clipPath id="w3"><circle cx="452.6" cy="502.9" r="32"/></clipPath><circle cx="452.6" cy="502.9" r="32" fill="#A8D3E2"/><g clip-path="url(#w3)"><ellipse cx="452.6" cy="539.0581920903954" rx="25.310734463276837" ry="18.07909604519774" fill="#5D96A8"/><rect x="446.81468926553674" y="508.3237288135593" width="11.570621468926554" height="12.655367231638419" fill="#7E4A22"/><g transform="translate(452.6 0) scale(-1 1) translate(-452.6 0)"><path d="M461.6395480225989 495.66836158192086Q472.48700564971756 506.51581920903953 464.35141242937857 527.3067796610169Q462.54350282485876 515.5553672316383 459.83163841807914 502.9Z" fill="#2F2F35"/><ellipse cx="452.6" cy="499.2841807909604" rx="12.655367231638419" ry="16.271186440677965" fill="#A0622E"/><path d="M438.49830508474577 499.2841807909604Q437.2327683615819 478.854802259887 452.6 478.854802259887Q467.9672316384181 478.854802259887 466.7016949152543 499.2841807909604Q463.44745762711864 488.4367231638418 454.4079096045198 485.7248587570621Q443.56045197740116 487.5327683615819 438.49830508474577 499.2841807909604Z" fill="#2F2F35"/></g></g>
<text x="41.80" y="68.80" font-size="40.5" font-weight="bold" fill="#fff" textLength="122.20" lengthAdjust="spacingAndGlyphs">BASIC</text>
<text x="42.80" y="101.00" font-size="30.5" font-weight="normal" fill="#fff" stroke="#fff" stroke-width="0.25" textLength="85.80" lengthAdjust="spacingAndGlyphs">POINT</text>
<text x="284.20" y="113.00" font-size="35.5" font-weight="bold" fill="#fff" textLength="98.40" lengthAdjust="spacingAndGlyphs">YOUR</text>
<text x="287.40" y="143.00" font-size="27" font-weight="normal" fill="#fff" stroke="#fff" stroke-width="0.25" textLength="95.00" lengthAdjust="spacingAndGlyphs">CLOUD</text>
<text x="286.60" y="48.50" font-size="11.3" font-weight="normal" fill="#fff" stroke="#fff" stroke-width="0.3" textLength="95.00" lengthAdjust="spacingAndGlyphs">Vestibulum porta,</text>
<text x="288.00" y="62.00" font-size="11.3" font-weight="normal" fill="#fff" stroke="#fff" stroke-width="0.3" textLength="89.60" lengthAdjust="spacingAndGlyphs">dolor eu euismod</text>
<text x="291.00" y="74.80" font-size="11.3" font-weight="normal" fill="#fff" stroke="#fff" stroke-width="0.3" textLength="86.60" lengthAdjust="spacingAndGlyphs">venenatis, lectus</text>
<text x="58.40" y="236.20" font-size="11.6" font-weight="normal" fill="#E6FBFD" stroke="#E6FBFD" stroke-width="0.3" textLength="305.40" lengthAdjust="spacingAndGlyphs">Vestibulum porta, dolor eu euismod venenatis, lectus augue</text>
<text x="45.80" y="250.00" font-size="11.6" font-weight="normal" fill="#E6FBFD" stroke="#E6FBFD" stroke-width="0.3" textLength="328.80" lengthAdjust="spacingAndGlyphs">vehicula erat, nec faucibus ipsum orci et tortor. Nulla quis nisi ut</text>
<text x="76.40" y="399.50" font-size="14.6" font-weight="normal" fill="#fff" stroke="#fff" stroke-width="0.3" textLength="50.20" lengthAdjust="spacingAndGlyphs">CLOUD</text>
<text x="76.40" y="416.30" font-size="14.6" font-weight="normal" fill="#fff" stroke="#fff" stroke-width="0.3" textLength="59.20" lengthAdjust="spacingAndGlyphs">HEADER</text>
<text x="294.80" y="399.20" font-size="14.6" font-weight="normal" fill="#fff" stroke="#fff" stroke-width="0.3" textLength="50.40" lengthAdjust="spacingAndGlyphs">CLOUD</text>
<text x="286.60" y="416.30" font-size="14.6" font-weight="normal" fill="#fff" stroke="#fff" stroke-width="0.3" textLength="59.00" lengthAdjust="spacingAndGlyphs">HEADER</text>
<text x="40.40" y="441.20" font-size="12" font-weight="normal" fill="#E6FBFD" stroke="#E6FBFD" stroke-width="0.3" textLength="58.20" lengthAdjust="spacingAndGlyphs">Vestibulum</text>
<text x="41.00" y="454.50" font-size="12" font-weight="normal" fill="#E6FBFD" stroke="#E6FBFD" stroke-width="0.3" textLength="73.40" lengthAdjust="spacingAndGlyphs">porta, dolor eu</text>
<text x="40.40" y="468.50" font-size="12" font-weight="normal" fill="#E6FBFD" stroke="#E6FBFD" stroke-width="0.3" textLength="44.20" lengthAdjust="spacingAndGlyphs">euismod</text>
<text x="41.20" y="523.20" font-size="12" font-weight="normal" fill="#E6FBFD" stroke="#E6FBFD" stroke-width="0.3" textLength="57.60" lengthAdjust="spacingAndGlyphs">Vestibulum</text>
<text x="41.00" y="537.00" font-size="12" font-weight="normal" fill="#E6FBFD" stroke="#E6FBFD" stroke-width="0.3" textLength="73.40" lengthAdjust="spacingAndGlyphs">porta, dolor eu</text>
<text x="326.00" y="441.40" font-size="12" font-weight="normal" fill="#E6FBFD" stroke="#E6FBFD" stroke-width="0.3" textLength="57.00" lengthAdjust="spacingAndGlyphs">Vestibulum</text>
<text x="309.40" y="455.00" font-size="12" font-weight="normal" fill="#E6FBFD" stroke="#E6FBFD" stroke-width="0.3" textLength="74.60" lengthAdjust="spacingAndGlyphs">porta, dolor eu</text>
<text x="339.60" y="468.50" font-size="12" font-weight="normal" fill="#E6FBFD" stroke="#E6FBFD" stroke-width="0.3" textLength="43.40" lengthAdjust="spacingAndGlyphs">euismod</text>
<text x="323.60" y="522.00" font-size="12" font-weight="normal" fill="#E6FBFD" stroke="#E6FBFD" stroke-width="0.3" textLength="57.00" lengthAdjust="spacingAndGlyphs">Vestibulum</text>
<text x="307.20" y="536.20" font-size="12" font-weight="normal" fill="#E6FBFD" stroke="#E6FBFD" stroke-width="0.3" textLength="73.40" lengthAdjust="spacingAndGlyphs">porta, dolor eu</text>
<text x="423.20" y="202.00" font-size="38.5" font-weight="bold" fill="#fff" textLength="338.60" lengthAdjust="spacingAndGlyphs">CLOUD STORAGE</text>
<text x="490.40" y="235.00" font-size="14.5" font-weight="normal" fill="#fff" stroke="#fff" stroke-width="0.3" textLength="53.20" lengthAdjust="spacingAndGlyphs">Vestibu-</text>
<text x="489.60" y="252.50" font-size="14.5" font-weight="normal" fill="#fff" stroke="#fff" stroke-width="0.3" textLength="68.00" lengthAdjust="spacingAndGlyphs">lum porta,</text>
<text x="490.60" y="269.50" font-size="14.5" font-weight="normal" fill="#fff" stroke="#fff" stroke-width="0.3" textLength="53.00" lengthAdjust="spacingAndGlyphs">dolor eu</text>
<text x="636.20" y="235.00" font-size="14.5" font-weight="normal" fill="#fff" stroke="#fff" stroke-width="0.3" textLength="53.40" lengthAdjust="spacingAndGlyphs">Vestibu-</text>
<text x="635.40" y="252.50" font-size="14.5" font-weight="normal" fill="#fff" stroke="#fff" stroke-width="0.3" textLength="68.20" lengthAdjust="spacingAndGlyphs">lum porta,</text>
<text x="635.40" y="269.50" font-size="14.5" font-weight="normal" fill="#fff" stroke="#fff" stroke-width="0.3" textLength="54.20" lengthAdjust="spacingAndGlyphs">dolor eu</text>
<text x="565.60" y="329.90" font-size="29" font-weight="normal" fill="#fff" stroke="#fff" stroke-width="0.25" textLength="199.20" lengthAdjust="spacingAndGlyphs">INFORMATION</text>
<text x="516.00" y="351.30" font-size="11" font-weight="normal" fill="#fff" stroke="#fff" stroke-width="0.3" textLength="243.40" lengthAdjust="spacingAndGlyphs">Vestibulum porta, dolor eu euismod venenatis, lectus</text>
<text x="511.80" y="362.40" font-size="11" font-weight="normal" fill="#fff" stroke="#fff" stroke-width="0.3" textLength="250.40" lengthAdjust="spacingAndGlyphs">augue vehicula erat, nec faucibus ipsum orci et tortor.</text>
<text x="516.40" y="373.40" font-size="11" font-weight="normal" fill="#fff" stroke="#fff" stroke-width="0.3" textLength="241.60" lengthAdjust="spacingAndGlyphs">Nulla quis nisi ut justo hendrerit consequat. Vivamus</text>
<text x="481.20" y="408.10" font-size="10.7" font-weight="normal" fill="#fff" stroke="#fff" stroke-width="0.3" textLength="147.80" lengthAdjust="spacingAndGlyphs">Vestibulum porta, dolor eu euis-</text>
<text x="480.20" y="420.90" font-size="10.7" font-weight="normal" fill="#fff" stroke="#fff" stroke-width="0.3" textLength="133.20" lengthAdjust="spacingAndGlyphs">mod venenatis, lectus augue</text>
<text x="481.20" y="432.80" font-size="10.7" font-weight="normal" fill="#fff" stroke="#fff" stroke-width="0.3" textLength="155.60" lengthAdjust="spacingAndGlyphs">vehicula erat, nec faucibus ipsum</text>
<text x="481.20" y="444.60" font-size="10.7" font-weight="normal" fill="#fff" stroke="#fff" stroke-width="0.3" textLength="139.00" lengthAdjust="spacingAndGlyphs">orci et tortor. Nulla quis nisi ut</text>
<text x="493.40" y="479.00" font-size="18.7" font-weight="normal" fill="#fff" stroke="#fff" stroke-width="0.25" textLength="64.20" lengthAdjust="spacingAndGlyphs">CLOUD</text>
<text x="566.40" y="479.00" font-size="18.7" font-weight="normal" fill="#fff" stroke="#fff" stroke-width="0.25" textLength="76.20" lengthAdjust="spacingAndGlyphs">HEADER</text>
<text x="494.40" y="497.00" font-size="11" font-weight="normal" fill="#E6FBFD" stroke="#E6FBFD" stroke-width="0.3" textLength="145.20" lengthAdjust="spacingAndGlyphs">Vestibulum porta, dolor eu euis-</text>
<text x="493.40" y="509.60" font-size="11" font-weight="normal" fill="#E6FBFD" stroke="#E6FBFD" stroke-width="0.3" textLength="132.20" lengthAdjust="spacingAndGlyphs">mod venenatis, lectus augue</text>
<text x="494.40" y="521.00" font-size="11" font-weight="normal" fill="#E6FBFD" stroke="#E6FBFD" stroke-width="0.3" textLength="153.20" lengthAdjust="spacingAndGlyphs">vehicula erat, nec faucibus ipsum</text>
<text x="494.40" y="532.40" font-size="11" font-weight="normal" fill="#E6FBFD" stroke="#E6FBFD" stroke-width="0.3" textLength="137.20" lengthAdjust="spacingAndGlyphs">orci et tortor. Nulla quis nisi ut</text>
<g font-family="Liberation Sans" font-weight="bold" font-size="119" fill="#262626" fill-opacity="0.5" style="mix-blend-mode:difference"><text x="87.2" y="323.5" textLength="68.4" lengthAdjust="spacingAndGlyphs">c</text><text x="157.0" y="323.5" textLength="78.0" lengthAdjust="spacingAndGlyphs">o</text><text x="232.9" y="323.5" textLength="28.3" lengthAdjust="spacingAndGlyphs">l</text><text x="254.4" y="323.5" textLength="87.1" lengthAdjust="spacingAndGlyphs">o</text><text x="336.0" y="323.5" textLength="78.4" lengthAdjust="spacingAndGlyphs">u</text><text x="402.2" y="323.5" textLength="75.8" lengthAdjust="spacingAndGlyphs">r</text><text x="468.7" y="323.5" textLength="95.8" lengthAdjust="spacingAndGlyphs">b</text><text x="554.9" y="323.5" textLength="80.3" lengthAdjust="spacingAndGlyphs">o</text><text x="631.3" y="323.5" textLength="59.5" lengthAdjust="spacingAndGlyphs">x</text></g><g font-family="Liberation Sans" font-weight="bold" font-size="119" fill="none" stroke="#fff" stroke-opacity="0.24" stroke-width="1" stroke-linejoin="round"><text x="87.2" y="323.5" textLength="68.4" lengthAdjust="spacingAndGlyphs">c</text><text x="157.0" y="323.5" textLength="78.0" lengthAdjust="spacingAndGlyphs">o</text><text x="232.9" y="323.5" textLength="28.3" lengthAdjust="spacingAndGlyphs">l</text><text x="254.4" y="323.5" textLength="87.1" lengthAdjust="spacingAndGlyphs">o</text><text x="336.0" y="323.5" textLength="78.4" lengthAdjust="spacingAndGlyphs">u</text><text x="402.2" y="323.5" textLength="75.8" lengthAdjust="spacingAndGlyphs">r</text><text x="468.7" y="323.5" textLength="95.8" lengthAdjust="spacingAndGlyphs">b</text><text x="554.9" y="323.5" textLength="80.3" lengthAdjust="spacingAndGlyphs">o</text><text x="631.3" y="323.5" textLength="59.5" lengthAdjust="spacingAndGlyphs">x</text></g>
</svg>
</body></html>
